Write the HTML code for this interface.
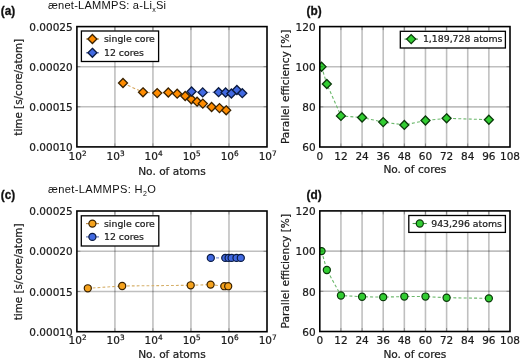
<!DOCTYPE html><html><head><meta charset="utf-8"><style>html,body{margin:0;padding:0;background:#fff;width:520px;height:360px;overflow:hidden}svg{display:block}.dv{font-family:"DejaVu Sans","Liberation Sans",sans-serif;fill:#1a1a1a;stroke:#1a1a1a;stroke-width:0.22px}.ti{font-family:"Liberation Sans",Arial,sans-serif;fill:#111}.pl{font-family:"Liberation Sans",Arial,sans-serif;font-weight:bold;fill:#111;stroke:#111;stroke-width:0.3px}</style></head><body>
<svg width="520" height="360" viewBox="0 0 520 360">
<defs><clipPath id="cA"><rect x="76.90" y="26.60" width="190.10" height="120.30"/></clipPath><clipPath id="cB"><rect x="319.80" y="26.60" width="190.20" height="120.40"/></clipPath><clipPath id="cC"><rect x="76.90" y="211.00" width="190.10" height="120.70"/></clipPath><clipPath id="cD"><rect x="319.80" y="210.90" width="190.20" height="120.60"/></clipPath></defs>
<g stroke="#000" stroke-opacity="0.25" stroke-width="1.6"><line x1="114.92" y1="26.60" x2="114.92" y2="146.90"/><line x1="152.94" y1="26.60" x2="152.94" y2="146.90"/><line x1="190.96" y1="26.60" x2="190.96" y2="146.90"/><line x1="228.98" y1="26.60" x2="228.98" y2="146.90"/><line x1="76.90" y1="66.70" x2="267.00" y2="66.70"/><line x1="76.90" y1="106.80" x2="267.00" y2="106.80"/></g>
<g stroke="#000" stroke-opacity="0.25" stroke-width="1.6"><line x1="340.93" y1="26.60" x2="340.93" y2="147.00"/><line x1="362.07" y1="26.60" x2="362.07" y2="147.00"/><line x1="383.20" y1="26.60" x2="383.20" y2="147.00"/><line x1="404.33" y1="26.60" x2="404.33" y2="147.00"/><line x1="425.47" y1="26.60" x2="425.47" y2="147.00"/><line x1="446.60" y1="26.60" x2="446.60" y2="147.00"/><line x1="467.73" y1="26.60" x2="467.73" y2="147.00"/><line x1="488.87" y1="26.60" x2="488.87" y2="147.00"/><line x1="319.80" y1="66.73" x2="510.00" y2="66.73"/><line x1="319.80" y1="106.87" x2="510.00" y2="106.87"/></g>
<g stroke="#000" stroke-opacity="0.25" stroke-width="1.6"><line x1="114.92" y1="211.00" x2="114.92" y2="331.70"/><line x1="152.94" y1="211.00" x2="152.94" y2="331.70"/><line x1="190.96" y1="211.00" x2="190.96" y2="331.70"/><line x1="228.98" y1="211.00" x2="228.98" y2="331.70"/><line x1="76.90" y1="251.23" x2="267.00" y2="251.23"/><line x1="76.90" y1="291.47" x2="267.00" y2="291.47"/></g>
<g stroke="#000" stroke-opacity="0.25" stroke-width="1.6"><line x1="340.93" y1="210.90" x2="340.93" y2="331.50"/><line x1="362.07" y1="210.90" x2="362.07" y2="331.50"/><line x1="383.20" y1="210.90" x2="383.20" y2="331.50"/><line x1="404.33" y1="210.90" x2="404.33" y2="331.50"/><line x1="425.47" y1="210.90" x2="425.47" y2="331.50"/><line x1="446.60" y1="210.90" x2="446.60" y2="331.50"/><line x1="467.73" y1="210.90" x2="467.73" y2="331.50"/><line x1="488.87" y1="210.90" x2="488.87" y2="331.50"/><line x1="319.80" y1="251.10" x2="510.00" y2="251.10"/><line x1="319.80" y1="291.30" x2="510.00" y2="291.30"/></g>
<g clip-path="url(#cA)">
<polyline points="123.00,83.00 143.00,92.30 157.20,93.10 168.30,92.50 177.20,93.70 185.20,96.00 191.40,99.30 197.10,101.70 202.80,103.60 211.60,107.00 219.50,108.10 226.20,110.30" fill="none" stroke="#d8a860" stroke-width="1.1" stroke-dasharray="3 2.2" opacity="1.0"/>
<polyline points="191.60,91.50 202.70,92.40 218.60,92.20 225.60,92.50 231.40,93.50 236.90,90.00 242.30,93.20" fill="none" stroke="#8c9ed8" stroke-width="1.1" stroke-dasharray="3 2.2" opacity="1.0"/>
<path d="M123.00 78.50L127.50 83.00L123.00 87.50L118.50 83.00Z" fill="#ff8c00" stroke="#3a2200" stroke-width="1.3"/>
<path d="M143.00 87.80L147.50 92.30L143.00 96.80L138.50 92.30Z" fill="#ff8c00" stroke="#3a2200" stroke-width="1.3"/>
<path d="M157.20 88.60L161.70 93.10L157.20 97.60L152.70 93.10Z" fill="#ff8c00" stroke="#3a2200" stroke-width="1.3"/>
<path d="M168.30 88.00L172.80 92.50L168.30 97.00L163.80 92.50Z" fill="#ff8c00" stroke="#3a2200" stroke-width="1.3"/>
<path d="M177.20 89.20L181.70 93.70L177.20 98.20L172.70 93.70Z" fill="#ff8c00" stroke="#3a2200" stroke-width="1.3"/>
<path d="M185.20 91.50L189.70 96.00L185.20 100.50L180.70 96.00Z" fill="#ff8c00" stroke="#3a2200" stroke-width="1.3"/>
<path d="M191.40 94.80L195.90 99.30L191.40 103.80L186.90 99.30Z" fill="#ff8c00" stroke="#3a2200" stroke-width="1.3"/>
<path d="M197.10 97.20L201.60 101.70L197.10 106.20L192.60 101.70Z" fill="#ff8c00" stroke="#3a2200" stroke-width="1.3"/>
<path d="M202.80 99.10L207.30 103.60L202.80 108.10L198.30 103.60Z" fill="#ff8c00" stroke="#3a2200" stroke-width="1.3"/>
<path d="M211.60 102.50L216.10 107.00L211.60 111.50L207.10 107.00Z" fill="#ff8c00" stroke="#3a2200" stroke-width="1.3"/>
<path d="M219.50 103.60L224.00 108.10L219.50 112.60L215.00 108.10Z" fill="#ff8c00" stroke="#3a2200" stroke-width="1.3"/>
<path d="M226.20 105.80L230.70 110.30L226.20 114.80L221.70 110.30Z" fill="#ff8c00" stroke="#3a2200" stroke-width="1.3"/>
<path d="M191.60 87.00L196.10 91.50L191.60 96.00L187.10 91.50Z" fill="#4169e1" stroke="#0a1a40" stroke-width="1.3"/>
<path d="M202.70 87.90L207.20 92.40L202.70 96.90L198.20 92.40Z" fill="#4169e1" stroke="#0a1a40" stroke-width="1.3"/>
<path d="M218.60 87.70L223.10 92.20L218.60 96.70L214.10 92.20Z" fill="#4169e1" stroke="#0a1a40" stroke-width="1.3"/>
<path d="M225.60 88.00L230.10 92.50L225.60 97.00L221.10 92.50Z" fill="#4169e1" stroke="#0a1a40" stroke-width="1.3"/>
<path d="M231.40 89.00L235.90 93.50L231.40 98.00L226.90 93.50Z" fill="#4169e1" stroke="#0a1a40" stroke-width="1.3"/>
<path d="M236.90 85.50L241.40 90.00L236.90 94.50L232.40 90.00Z" fill="#4169e1" stroke="#0a1a40" stroke-width="1.3"/>
<path d="M242.30 88.70L246.80 93.20L242.30 97.70L237.80 93.20Z" fill="#4169e1" stroke="#0a1a40" stroke-width="1.3"/>
</g>
<g clip-path="url(#cB)">
<polyline points="321.56,66.73 326.84,83.99 340.93,115.90 362.07,117.50 383.20,122.12 404.33,124.93 425.47,120.51 446.60,118.30 488.87,119.71" fill="none" stroke="#6cb86c" stroke-width="1.1" stroke-dasharray="3 2.2" opacity="1.0"/>
<path d="M321.56 62.23L326.06 66.73L321.56 71.23L317.06 66.73Z" fill="#32cd32" stroke="#0a3a0a" stroke-width="1.3"/>
<path d="M326.84 79.49L331.34 83.99L326.84 88.49L322.34 83.99Z" fill="#32cd32" stroke="#0a3a0a" stroke-width="1.3"/>
<path d="M340.93 111.40L345.43 115.90L340.93 120.40L336.43 115.90Z" fill="#32cd32" stroke="#0a3a0a" stroke-width="1.3"/>
<path d="M362.07 113.00L366.57 117.50L362.07 122.00L357.57 117.50Z" fill="#32cd32" stroke="#0a3a0a" stroke-width="1.3"/>
<path d="M383.20 117.62L387.70 122.12L383.20 126.62L378.70 122.12Z" fill="#32cd32" stroke="#0a3a0a" stroke-width="1.3"/>
<path d="M404.33 120.43L408.83 124.93L404.33 129.43L399.83 124.93Z" fill="#32cd32" stroke="#0a3a0a" stroke-width="1.3"/>
<path d="M425.47 116.01L429.97 120.51L425.47 125.01L420.97 120.51Z" fill="#32cd32" stroke="#0a3a0a" stroke-width="1.3"/>
<path d="M446.60 113.80L451.10 118.30L446.60 122.80L442.10 118.30Z" fill="#32cd32" stroke="#0a3a0a" stroke-width="1.3"/>
<path d="M488.87 115.21L493.37 119.71L488.87 124.21L484.37 119.71Z" fill="#32cd32" stroke="#0a3a0a" stroke-width="1.3"/>
</g>
<g clip-path="url(#cC)">
<polyline points="87.80,288.30 122.20,286.00 190.70,285.30 210.60,284.60 224.30,286.20 228.20,286.20" fill="none" stroke="#d6b06a" stroke-width="1.1" stroke-dasharray="2.8 2.1" opacity="1.0"/>
<polyline points="210.80,257.90 225.30,257.90 228.60,257.90 231.60,257.90 236.50,257.90 240.80,257.90" fill="none" stroke="#8c9ed8" stroke-width="1.1" stroke-dasharray="3 2.2" opacity="1.0"/>
<circle cx="87.80" cy="288.30" r="3.55" fill="#f5a21c" stroke="#3a2200" stroke-width="1.2"/>
<circle cx="122.20" cy="286.00" r="3.55" fill="#f5a21c" stroke="#3a2200" stroke-width="1.2"/>
<circle cx="190.70" cy="285.30" r="3.55" fill="#f5a21c" stroke="#3a2200" stroke-width="1.2"/>
<circle cx="210.60" cy="284.60" r="3.55" fill="#f5a21c" stroke="#3a2200" stroke-width="1.2"/>
<circle cx="224.30" cy="286.20" r="3.55" fill="#f5a21c" stroke="#3a2200" stroke-width="1.2"/>
<circle cx="228.20" cy="286.20" r="3.55" fill="#f5a21c" stroke="#3a2200" stroke-width="1.2"/>
<circle cx="210.80" cy="257.90" r="3.55" fill="#4169e1" stroke="#0a1a40" stroke-width="1.2"/>
<circle cx="225.30" cy="257.90" r="3.55" fill="#4169e1" stroke="#0a1a40" stroke-width="1.2"/>
<circle cx="228.60" cy="257.90" r="3.55" fill="#4169e1" stroke="#0a1a40" stroke-width="1.2"/>
<circle cx="231.60" cy="257.90" r="3.55" fill="#4169e1" stroke="#0a1a40" stroke-width="1.2"/>
<circle cx="236.50" cy="257.90" r="3.55" fill="#4169e1" stroke="#0a1a40" stroke-width="1.2"/>
<circle cx="240.80" cy="257.90" r="3.55" fill="#4169e1" stroke="#0a1a40" stroke-width="1.2"/>
</g>
<g clip-path="url(#cD)">
<polyline points="321.56,251.10 326.84,269.99 340.93,295.52 362.07,296.73 383.20,297.13 404.33,296.53 425.47,296.53 446.60,297.73 488.87,298.33" fill="none" stroke="#6cb86c" stroke-width="1.1" stroke-dasharray="3 2.2" opacity="1.0"/>
<circle cx="321.56" cy="251.10" r="3.55" fill="#32cd32" stroke="#0a3a0a" stroke-width="1.2"/>
<circle cx="326.84" cy="269.99" r="3.55" fill="#32cd32" stroke="#0a3a0a" stroke-width="1.2"/>
<circle cx="340.93" cy="295.52" r="3.55" fill="#32cd32" stroke="#0a3a0a" stroke-width="1.2"/>
<circle cx="362.07" cy="296.73" r="3.55" fill="#32cd32" stroke="#0a3a0a" stroke-width="1.2"/>
<circle cx="383.20" cy="297.13" r="3.55" fill="#32cd32" stroke="#0a3a0a" stroke-width="1.2"/>
<circle cx="404.33" cy="296.53" r="3.55" fill="#32cd32" stroke="#0a3a0a" stroke-width="1.2"/>
<circle cx="425.47" cy="296.53" r="3.55" fill="#32cd32" stroke="#0a3a0a" stroke-width="1.2"/>
<circle cx="446.60" cy="297.73" r="3.55" fill="#32cd32" stroke="#0a3a0a" stroke-width="1.2"/>
<circle cx="488.87" cy="298.33" r="3.55" fill="#32cd32" stroke="#0a3a0a" stroke-width="1.2"/>
</g>
<g stroke="#000" stroke-opacity="0.3" stroke-width="1"><line x1="114.92" y1="146.90" x2="114.92" y2="143.40"/><line x1="114.92" y1="26.60" x2="114.92" y2="30.10"/><line x1="152.94" y1="146.90" x2="152.94" y2="143.40"/><line x1="152.94" y1="26.60" x2="152.94" y2="30.10"/><line x1="190.96" y1="146.90" x2="190.96" y2="143.40"/><line x1="190.96" y1="26.60" x2="190.96" y2="30.10"/><line x1="228.98" y1="146.90" x2="228.98" y2="143.40"/><line x1="228.98" y1="26.60" x2="228.98" y2="30.10"/><line x1="76.90" y1="66.70" x2="80.40" y2="66.70"/><line x1="267.00" y1="66.70" x2="263.50" y2="66.70"/><line x1="76.90" y1="106.80" x2="80.40" y2="106.80"/><line x1="267.00" y1="106.80" x2="263.50" y2="106.80"/></g>
<g stroke="#000" stroke-opacity="0.3" stroke-width="1"><line x1="340.93" y1="147.00" x2="340.93" y2="143.50"/><line x1="340.93" y1="26.60" x2="340.93" y2="30.10"/><line x1="362.07" y1="147.00" x2="362.07" y2="143.50"/><line x1="362.07" y1="26.60" x2="362.07" y2="30.10"/><line x1="383.20" y1="147.00" x2="383.20" y2="143.50"/><line x1="383.20" y1="26.60" x2="383.20" y2="30.10"/><line x1="404.33" y1="147.00" x2="404.33" y2="143.50"/><line x1="404.33" y1="26.60" x2="404.33" y2="30.10"/><line x1="425.47" y1="147.00" x2="425.47" y2="143.50"/><line x1="425.47" y1="26.60" x2="425.47" y2="30.10"/><line x1="446.60" y1="147.00" x2="446.60" y2="143.50"/><line x1="446.60" y1="26.60" x2="446.60" y2="30.10"/><line x1="467.73" y1="147.00" x2="467.73" y2="143.50"/><line x1="467.73" y1="26.60" x2="467.73" y2="30.10"/><line x1="488.87" y1="147.00" x2="488.87" y2="143.50"/><line x1="488.87" y1="26.60" x2="488.87" y2="30.10"/><line x1="319.80" y1="66.73" x2="323.30" y2="66.73"/><line x1="510.00" y1="66.73" x2="506.50" y2="66.73"/><line x1="319.80" y1="106.87" x2="323.30" y2="106.87"/><line x1="510.00" y1="106.87" x2="506.50" y2="106.87"/></g>
<g stroke="#000" stroke-opacity="0.3" stroke-width="1"><line x1="114.92" y1="331.70" x2="114.92" y2="328.20"/><line x1="114.92" y1="211.00" x2="114.92" y2="214.50"/><line x1="152.94" y1="331.70" x2="152.94" y2="328.20"/><line x1="152.94" y1="211.00" x2="152.94" y2="214.50"/><line x1="190.96" y1="331.70" x2="190.96" y2="328.20"/><line x1="190.96" y1="211.00" x2="190.96" y2="214.50"/><line x1="228.98" y1="331.70" x2="228.98" y2="328.20"/><line x1="228.98" y1="211.00" x2="228.98" y2="214.50"/><line x1="76.90" y1="251.23" x2="80.40" y2="251.23"/><line x1="267.00" y1="251.23" x2="263.50" y2="251.23"/><line x1="76.90" y1="291.47" x2="80.40" y2="291.47"/><line x1="267.00" y1="291.47" x2="263.50" y2="291.47"/></g>
<g stroke="#000" stroke-opacity="0.3" stroke-width="1"><line x1="340.93" y1="331.50" x2="340.93" y2="328.00"/><line x1="340.93" y1="210.90" x2="340.93" y2="214.40"/><line x1="362.07" y1="331.50" x2="362.07" y2="328.00"/><line x1="362.07" y1="210.90" x2="362.07" y2="214.40"/><line x1="383.20" y1="331.50" x2="383.20" y2="328.00"/><line x1="383.20" y1="210.90" x2="383.20" y2="214.40"/><line x1="404.33" y1="331.50" x2="404.33" y2="328.00"/><line x1="404.33" y1="210.90" x2="404.33" y2="214.40"/><line x1="425.47" y1="331.50" x2="425.47" y2="328.00"/><line x1="425.47" y1="210.90" x2="425.47" y2="214.40"/><line x1="446.60" y1="331.50" x2="446.60" y2="328.00"/><line x1="446.60" y1="210.90" x2="446.60" y2="214.40"/><line x1="467.73" y1="331.50" x2="467.73" y2="328.00"/><line x1="467.73" y1="210.90" x2="467.73" y2="214.40"/><line x1="488.87" y1="331.50" x2="488.87" y2="328.00"/><line x1="488.87" y1="210.90" x2="488.87" y2="214.40"/><line x1="319.80" y1="251.10" x2="323.30" y2="251.10"/><line x1="510.00" y1="251.10" x2="506.50" y2="251.10"/><line x1="319.80" y1="291.30" x2="323.30" y2="291.30"/><line x1="510.00" y1="291.30" x2="506.50" y2="291.30"/></g>
<rect x="76.90" y="26.60" width="190.10" height="120.30" fill="none" stroke="#000" stroke-width="1.6"/>
<rect x="319.80" y="26.60" width="190.20" height="120.40" fill="none" stroke="#000" stroke-width="1.6"/>
<rect x="76.90" y="211.00" width="190.10" height="120.70" fill="none" stroke="#000" stroke-width="1.6"/>
<rect x="319.80" y="210.90" width="190.20" height="120.60" fill="none" stroke="#000" stroke-width="1.6"/>
<rect x="81.4" y="31.0" width="77.20" height="30.50" fill="#fff" stroke="#000" stroke-width="1.3"/>
<line x1="86" y1="39" x2="99" y2="39" stroke="#b88a48" stroke-width="1.1"/>
<path d="M92.40 34.50L96.90 39.00L92.40 43.50L87.90 39.00Z" fill="#ff8c00" stroke="#3a2200" stroke-width="1.3"/>
<line x1="86" y1="52.8" x2="99" y2="52.8" stroke="#5a6cb0" stroke-width="1.1"/>
<path d="M92.40 48.30L96.90 52.80L92.40 57.30L87.90 52.80Z" fill="#4169e1" stroke="#0a1a40" stroke-width="1.3"/>
<text class="dv" x="104.0" y="42.3" font-size="9.35">single core</text>
<text class="dv" x="104.0" y="56.1" font-size="9.35">12 cores</text>
<rect x="81.3" y="215.8" width="77.50" height="30.20" fill="#fff" stroke="#000" stroke-width="1.3"/>
<line x1="86" y1="223.6" x2="99" y2="223.6" stroke="#b88a48" stroke-width="1.1"/>
<circle cx="92.40" cy="223.60" r="3.55" fill="#f5a21c" stroke="#3a2200" stroke-width="1.2"/>
<line x1="86" y1="236.9" x2="99" y2="236.9" stroke="#5a6cb0" stroke-width="1.1"/>
<circle cx="92.40" cy="236.90" r="3.55" fill="#4169e1" stroke="#0a1a40" stroke-width="1.2"/>
<text class="dv" x="104.0" y="226.9" font-size="9.35">single core</text>
<text class="dv" x="104.0" y="239.8" font-size="9.35">12 cores</text>
<rect x="400.3" y="31.3" width="105.10" height="16.70" fill="#fff" stroke="#000" stroke-width="1.3"/>
<line x1="404.5" y1="39.1" x2="418" y2="39.1" stroke="#4a9a4a" stroke-width="1.1"/>
<path d="M411.20 34.60L415.70 39.10L411.20 43.60L406.70 39.10Z" fill="#32cd32" stroke="#0a3a0a" stroke-width="1.3"/>
<text class="dv" x="422.9" y="42.4" font-size="9.35">1,189,728 atoms</text>
<rect x="408.8" y="215.5" width="96.60" height="16.90" fill="#fff" stroke="#000" stroke-width="1.3"/>
<line x1="412.6" y1="223.5" x2="426.8" y2="223.5" stroke="#4a9a4a" stroke-width="1.1"/>
<circle cx="419.80" cy="223.50" r="3.55" fill="#32cd32" stroke="#0a3a0a" stroke-width="1.2"/>
<text class="dv" x="431.2" y="226.9" font-size="9.35">943,296 atoms</text>
<g class="dv" font-size="10.5">
<text x="72.70" y="151.10" text-anchor="end">0.00010</text><text x="72.70" y="111.00" text-anchor="end">0.00015</text><text x="72.70" y="70.90" text-anchor="end">0.00020</text><text x="72.70" y="30.80" text-anchor="end">0.00025</text>
<text x="72.70" y="335.90" text-anchor="end">0.00010</text><text x="72.70" y="295.67" text-anchor="end">0.00015</text><text x="72.70" y="255.43" text-anchor="end">0.00020</text><text x="72.70" y="215.20" text-anchor="end">0.00025</text>
<text x="315.60" y="151.20" text-anchor="end">60</text><text x="315.60" y="111.07" text-anchor="end">80</text><text x="315.60" y="70.93" text-anchor="end">100</text><text x="315.60" y="30.80" text-anchor="end">120</text>
<text x="315.60" y="335.70" text-anchor="end">60</text><text x="315.60" y="295.50" text-anchor="end">80</text><text x="315.60" y="255.30" text-anchor="end">100</text><text x="315.60" y="215.10" text-anchor="end">120</text>
<text x="77.60" y="159.90" text-anchor="middle">10<tspan font-size="7.35" dy="-3.9">2</tspan></text><text x="115.62" y="159.90" text-anchor="middle">10<tspan font-size="7.35" dy="-3.9">3</tspan></text><text x="153.64" y="159.90" text-anchor="middle">10<tspan font-size="7.35" dy="-3.9">4</tspan></text><text x="191.66" y="159.90" text-anchor="middle">10<tspan font-size="7.35" dy="-3.9">5</tspan></text><text x="229.68" y="159.90" text-anchor="middle">10<tspan font-size="7.35" dy="-3.9">6</tspan></text><text x="267.70" y="159.90" text-anchor="middle">10<tspan font-size="7.35" dy="-3.9">7</tspan></text>
<text x="77.60" y="343.90" text-anchor="middle">10<tspan font-size="7.35" dy="-3.9">2</tspan></text><text x="115.62" y="343.90" text-anchor="middle">10<tspan font-size="7.35" dy="-3.9">3</tspan></text><text x="153.64" y="343.90" text-anchor="middle">10<tspan font-size="7.35" dy="-3.9">4</tspan></text><text x="191.66" y="343.90" text-anchor="middle">10<tspan font-size="7.35" dy="-3.9">5</tspan></text><text x="229.68" y="343.90" text-anchor="middle">10<tspan font-size="7.35" dy="-3.9">6</tspan></text><text x="267.70" y="343.90" text-anchor="middle">10<tspan font-size="7.35" dy="-3.9">7</tspan></text>
<text x="319.80" y="160.00" text-anchor="middle">0</text><text x="340.93" y="160.00" text-anchor="middle">12</text><text x="362.07" y="160.00" text-anchor="middle">24</text><text x="383.20" y="160.00" text-anchor="middle">36</text><text x="404.33" y="160.00" text-anchor="middle">48</text><text x="425.47" y="160.00" text-anchor="middle">60</text><text x="446.60" y="160.00" text-anchor="middle">72</text><text x="467.73" y="160.00" text-anchor="middle">84</text><text x="488.87" y="160.00" text-anchor="middle">96</text><text x="510.00" y="160.00" text-anchor="middle">108</text>
<text x="319.80" y="343.70" text-anchor="middle">0</text><text x="340.93" y="343.70" text-anchor="middle">12</text><text x="362.07" y="343.70" text-anchor="middle">24</text><text x="383.20" y="343.70" text-anchor="middle">36</text><text x="404.33" y="343.70" text-anchor="middle">48</text><text x="425.47" y="343.70" text-anchor="middle">60</text><text x="446.60" y="343.70" text-anchor="middle">72</text><text x="467.73" y="343.70" text-anchor="middle">84</text><text x="488.87" y="343.70" text-anchor="middle">96</text><text x="510.00" y="343.70" text-anchor="middle">108</text>
</g>
<text class="dv" x="171.95" y="174.50" text-anchor="middle" font-size="10.6">No. of atoms</text>
<text class="dv" x="171.95" y="358.40" text-anchor="middle" font-size="10.6">No. of atoms</text>
<text class="dv" x="414.90" y="172.70" text-anchor="middle" font-size="10.6">No. of cores</text>
<text class="dv" x="414.90" y="358.00" text-anchor="middle" font-size="10.6">No. of cores</text>
<text class="dv" transform="translate(21.90,87.30) rotate(-90)" text-anchor="middle" font-size="10.4">time [s/core/atom]</text>
<text class="dv" transform="translate(21.90,271.90) rotate(-90)" text-anchor="middle" font-size="10.4">time [s/core/atom]</text>
<text class="dv" transform="translate(288.60,86.80) rotate(-90)" text-anchor="middle" font-size="10.6">Parallel efficiency [%]</text>
<text class="dv" transform="translate(288.60,271.20) rotate(-90)" text-anchor="middle" font-size="10.6">Parallel efficiency [%]</text>
<text class="pl" transform="translate(0.7,15.3) scale(0.91,1)" font-size="13">(a)</text>
<text class="pl" transform="translate(306.6,15.3) scale(0.91,1)" font-size="13">(b)</text>
<text class="pl" transform="translate(0.7,199.0) scale(0.91,1)" font-size="13">(c)</text>
<text class="pl" transform="translate(306.6,199.0) scale(0.91,1)" font-size="13">(d)</text>
<text class="ti" x="48" y="9.2" font-size="11.1" letter-spacing="0.22">ænet-LAMMPS: a-Li<tspan font-size="7" dy="2.8">x</tspan><tspan dy="-2.8">Si</tspan></text>
<text class="ti" x="48" y="192.7" font-size="11.1" letter-spacing="0.35">ænet-LAMMPS: H<tspan font-size="7" dy="3">2</tspan><tspan dy="-3">O</tspan></text>
</svg></body></html>
